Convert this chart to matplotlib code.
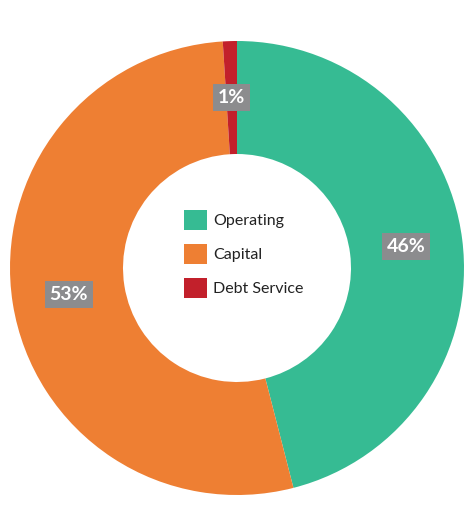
import matplotlib.pyplot as plt

# budget split
labels = ['Operating', 'Capital', 'Debt Service']
shares = [46, 53, 1]
colors = ['#36BB93', '#EE7F33', '#C2202B']

plt.rcParams['font.family'] = ['Lato', 'DejaVu Sans']

fig = plt.figure(figsize=(4.74, 5.08), dpi=100)
ax = fig.add_axes([0, 0, 1, 1])

wedges, texts, pcts = ax.pie(
    shares, colors=colors, startangle=90, counterclock=False,
    center=(237, 240), radius=227, autopct=lambda p: f'{round(p)}%',
    pctdistance=0.75,
    wedgeprops=dict(width=113, edgecolor='none'),
    textprops=dict(color='white', fontsize=14, fontweight='bold'))

for t in pcts:
    t.set_bbox(dict(facecolor='#8C8C8E', edgecolor='none', pad=3.5))

ax.legend(wedges, labels, loc='center', bbox_to_anchor=(244 / 474, 254 / 508),
          frameon=False, fontsize=11.5, handlelength=1.4, handleheight=1.6,
          labelspacing=0.85, handletextpad=0.4, labelcolor='#222222')

ax.set_xlim(0, 474)
ax.set_ylim(0, 508)
ax.set_aspect('equal')
ax.axis('off')

fig.savefig('out.png', dpi=100)
